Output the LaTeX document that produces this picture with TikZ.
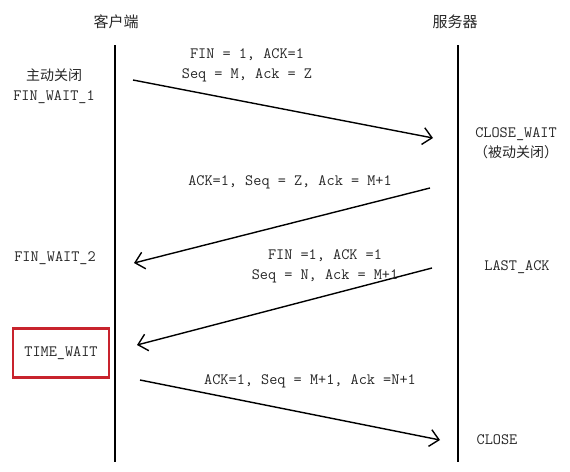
\documentclass[tikz,border=0pt]{standalone}
\usepackage{fontspec}
\newfontfamily\cjk{Noto Sans CJK SC}
\usetikzlibrary{arrows.meta}
\tikzset{
     lifeline/.style={
           draw=black,
           line width=1.8pt,
           },
     msg/.style={
           -{Straight Barb[length=9pt,width=17pt,line width=1.4pt]},
           line width=1.4pt,
           },
     label/.style={
           font=\ttfamily\fontsize{15.8}{20}\selectfont,
           text=black!85,
           inner sep=0pt,
           align=center,
           },
     party/.style={
           font=\cjk\fontsize{15}{17}\selectfont,
           text=black!85,
           inner sep=0pt,
           },
     redbox/.style={
           draw={rgb,255:red,200;green,35;blue,45},
           line width=2.2pt,
           minimum width=96pt,
           minimum height=49pt,
           },
}

\begin{document}
\begin{tikzpicture}[x=1pt,y=-1pt]
	\useasboundingbox (0,0) rectangle (570,471);
	% the two sides
	\node[party] (cli) at (116,22) {客户端};
	\node[party] (srv) at (455,22) {服务器};
	\coordinate (cli top) at (115,45);
	\coordinate (cli bot) at (115,462);
	\coordinate (srv top) at (458,45);
	\coordinate (srv bot) at (458,462);
	\draw[lifeline] (cli top) -- (cli bot);
	\draw[lifeline] (srv top) -- (srv bot);

	% states
	\node[label] (fw1) at (54,86) {{\cjk\fontsize{14}{20}\selectfont 主动关闭}\\FIN\_WAIT\_1};
	\node[label] (cw) at (516,143) {CLOSE\_WAIT\\{\cjk\fontsize{14}{20}\selectfont （被动关闭）}};
	\node[label] (fw2) at (55,258) {FIN\_WAIT\_2};
	\node[label] (la) at (517,267) {LAST\_ACK};
	\node[label, redbox] (tw) at (61,353) {TIME\_WAIT};
	\node[label] (cl) at (497,440) {CLOSE};

	% segments
	\coordinate (m1a) at (133,80);
	\coordinate (m1b) at (433,138);
	\coordinate (m2a) at (430,188);
	\coordinate (m2b) at (134,263);
	\coordinate (m3a) at (432,268);
	\coordinate (m3b) at (137,345);
	\coordinate (m4a) at (140,380);
	\coordinate (m4b) at (440,440);
	\draw[msg] (m1a) -- (m1b);
	\draw[msg] (m2a) -- (m2b);
	\draw[msg] (m3a) -- (m3b);
	\draw[msg] (m4a) -- (m4b);

	\node[label] (l1) at (247,65) {FIN = 1, ACK=1\\Seq = M, Ack = Z};
	\node[label] (l2) at (290,182) {ACK=1, Seq = Z, Ack = M+1};
	\node[label] (l3) at (325,266) {FIN =1, ACK =1\\Seq = N, Ack = M+1};
	\node[label] (l4) at (310,381) {ACK=1, Seq = M+1, Ack =N+1};
\end{tikzpicture}
\end{document}
